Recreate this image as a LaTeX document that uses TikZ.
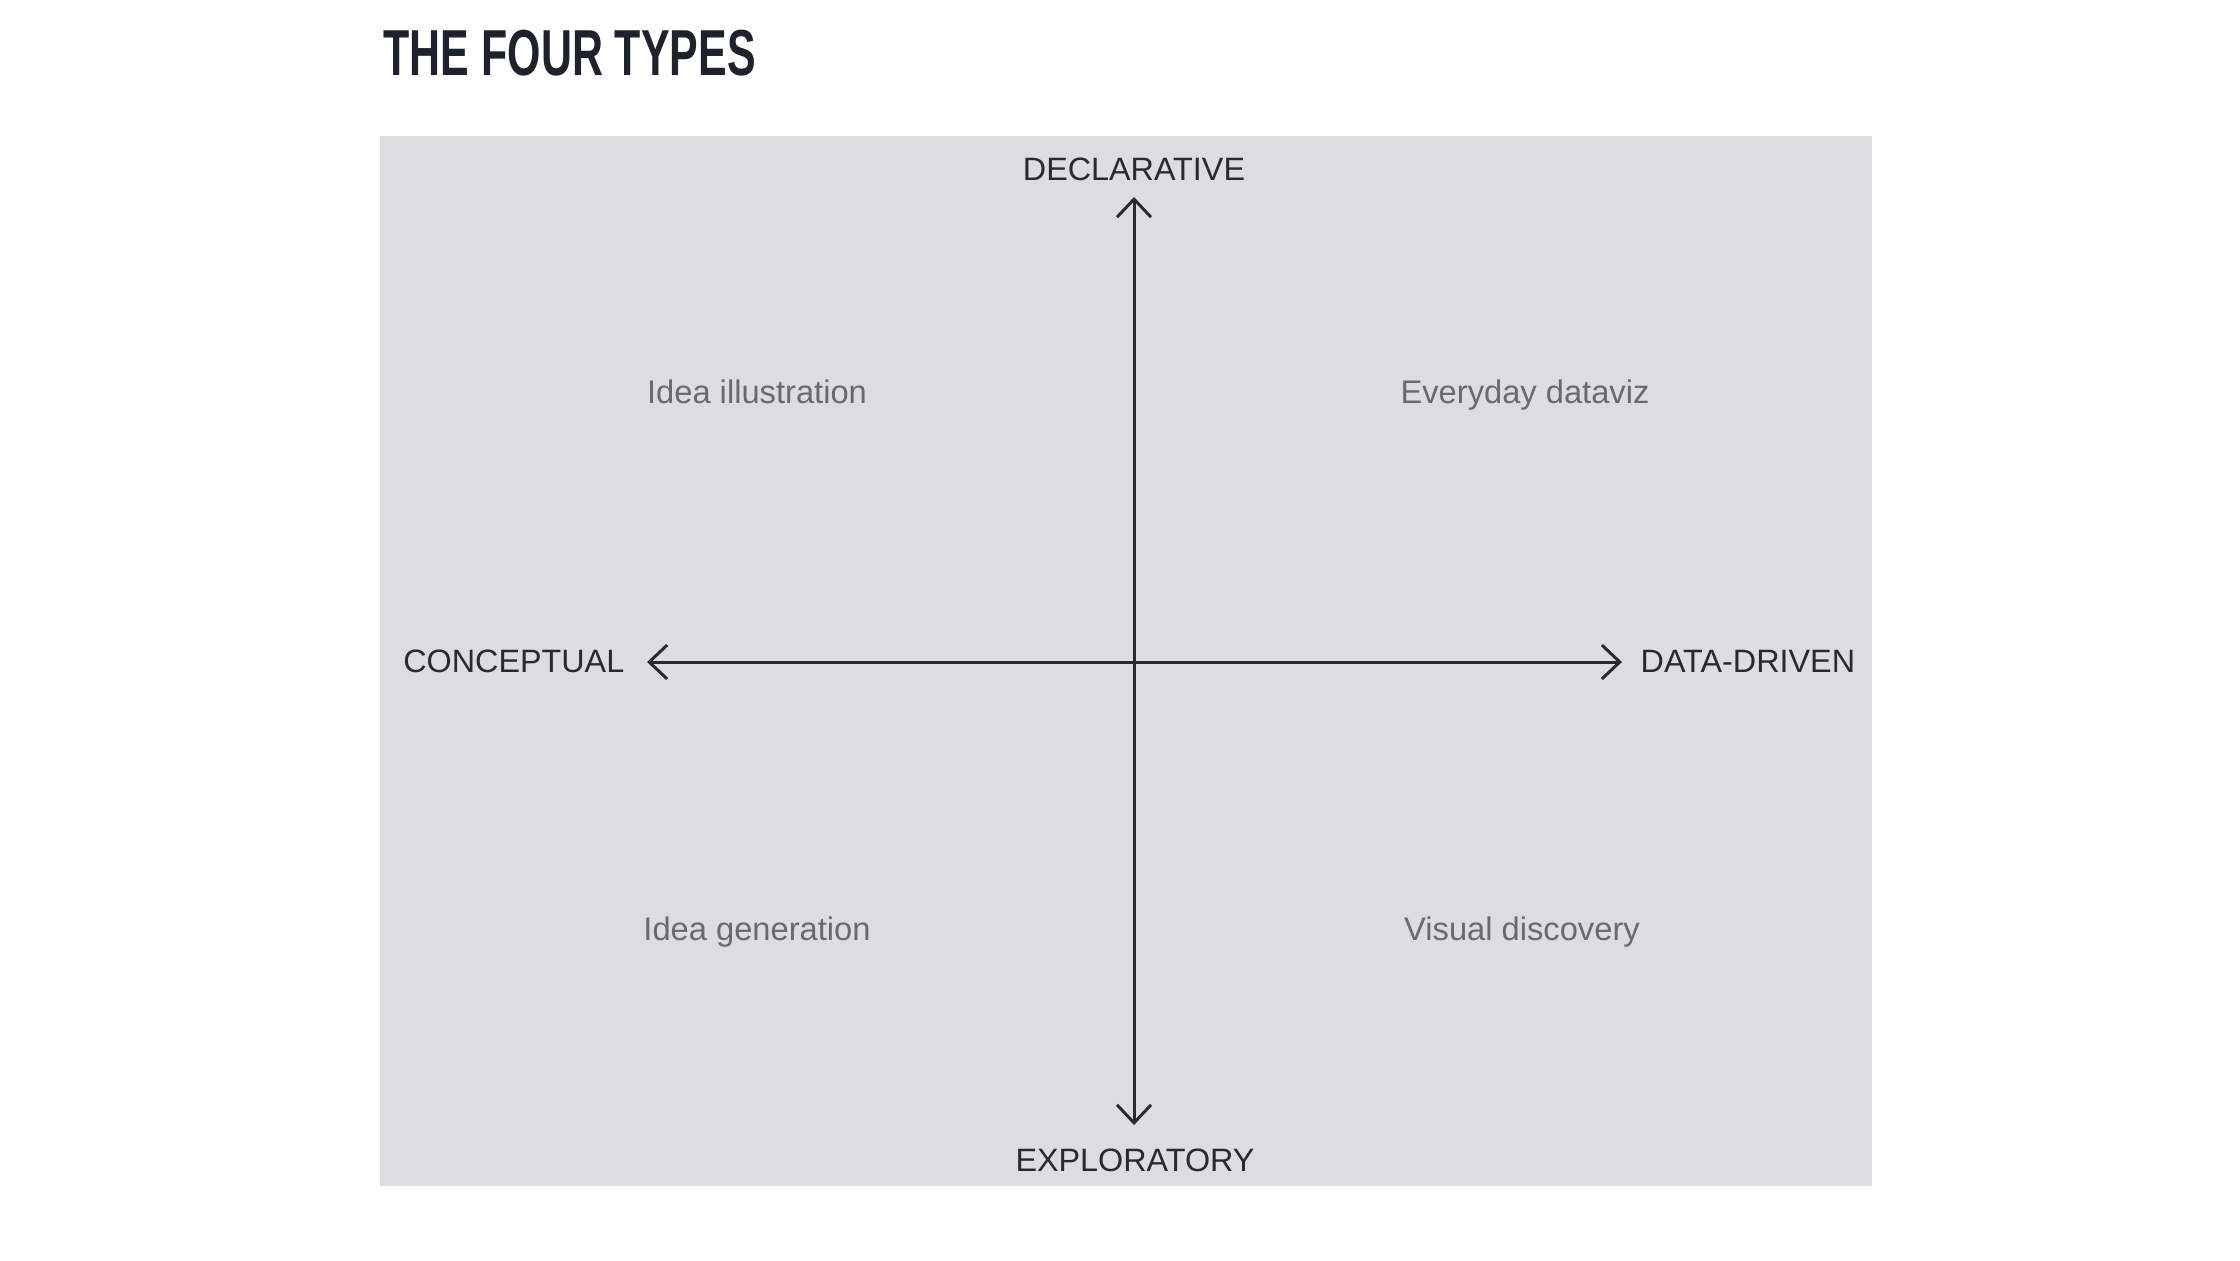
\documentclass[tikz,border=0pt]{standalone}
\usepackage{fontspec}
\setmainfont{Liberation Sans}
\usetikzlibrary{arrows.meta,positioning}

\definecolor{paper}{RGB}{220,221,223}
\definecolor{ink}{RGB}{40,42,48}
\definecolor{titleink}{RGB}{30,34,44}
\definecolor{soft}{RGB}{105,106,110}

\tikzset{
  panel/.style  ={fill=paper, draw=none},
  axis/.style   ={{Straight Barb[length=1.8mm,width=3.4mm]}-{Straight Barb[length=1.8mm,width=3.4mm]}, line width=0.85pt, draw=ink},
  pole/.style   ={font=\fontsize{9.2}{11}\selectfont, text=ink, inner sep=0pt},
  kind/.style   ={font=\fontsize{9.3}{11}\selectfont, text=soft, inner sep=0pt, anchor=base},
  heading/.style={font=\fontsize{18.5}{20}\selectfont\bfseries, text=titleink, inner sep=0pt, anchor=west}
}

\begin{document}
\begin{tikzpicture}
    \useasboundingbox (0,0) rectangle (22.4,12.6);

    % title
    \node[heading] (title) at (3.83,12.07) {\scalebox{0.66}[1]{THE FOUR TYPES}};

    % grey panel
    \fill[panel] (3.80,0.74) rectangle (18.72,11.24);

    % axes
    \coordinate (origin) at (11.34,5.98);
    \coordinate (north) at (11.34,10.63);
    \coordinate (south) at (11.34,1.35);
    \coordinate (west) at (6.47,5.98);
    \coordinate (east) at (16.22,5.98);
    \draw[axis] (south) -- (north);
    \draw[axis] (west) -- (east);

    % pole labels
    \node[pole] (declarative) at (11.34,10.91) {DECLARATIVE};
    \node[pole] (exploratory) at (11.35,1.00) {EXPLORATORY};
    \node[pole, anchor=east] (conceptual) at (6.25,5.99) {CONCEPTUAL};
    \node[pole, anchor=west] (datadriven) at (16.40,5.99) {DATA-DRIVEN};

    % quadrants
    \node[kind] (illustration) at (7.57,8.57) {Idea illustration};
    \node[kind] (everyday) at (15.25,8.57) {Everyday dataviz};
    \node[kind] (generation) at (7.57,3.20) {Idea generation};
    \node[kind] (discovery) at (15.22,3.20) {Visual discovery};
\end{tikzpicture}
\end{document}
